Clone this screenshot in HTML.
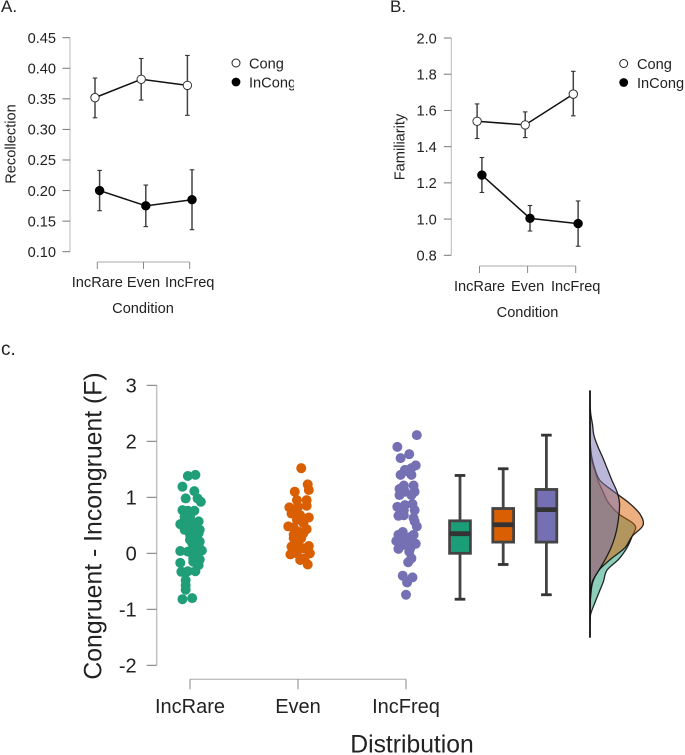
<!DOCTYPE html>
<html lang="en">
<head>
<meta charset="utf-8">
<title>Recollection, familiarity and congruency effects</title>
<style>
html,body{margin:0;padding:0;background:#fff;width:685px;height:755px;overflow:hidden}
svg{display:block;font-family:"Liberation Sans",sans-serif;fill:#222;filter:blur(.35px)}
</style>
</head>
<body>
<svg id="figure" xmlns="http://www.w3.org/2000/svg" width="685" height="755" viewBox="0 0 685 755">
  <defs>
    <clipPath id="legend-a-clip"><rect x="225" y="45" width="69" height="55"/></clipPath>
  </defs>
  <text x="1" y="12" font-size="17">A.</text>
  <text x="390" y="12" font-size="17">B.</text>
  <text x="1" y="355" font-size="19">c.</text>

  <text transform="translate(15.7,144) rotate(-90)" text-anchor="middle" font-size="14.6">Recollection</text>
  <text x="143" y="313" text-anchor="middle" font-size="14.6">Condition</text>
  <text transform="translate(404.5,147) rotate(-90)" text-anchor="middle" font-size="14.6">Familiarity</text>
  <text x="527.5" y="317" text-anchor="middle" font-size="14.6">Condition</text>
  <text transform="translate(101.7,526) rotate(-90)" text-anchor="middle" font-size="24.8">Congruent - Incongruent (F)</text>
  <text x="412" y="752.5" text-anchor="middle" font-size="24.7">Distribution</text>

  <g clip-path="url(#legend-a-clip)">
    <circle cx="236" cy="63" r="4" fill="#fff" stroke="#222" stroke-width="1"/>
    <text x="249" y="68.5" font-size="14.6">Cong</text>
    <circle cx="236" cy="82" r="4.4" fill="#000"/>
    <text x="249" y="87.5" font-size="14.6">InCong</text>
  </g>
  <g>
    <circle cx="623.7" cy="63.5" r="4" fill="#fff" stroke="#222" stroke-width="1"/>
    <text x="637" y="69" font-size="14.6">Cong</text>
    <circle cx="623.7" cy="82.5" r="4.4" fill="#000"/>
    <text x="637" y="88" font-size="14.6">InCong</text>
  </g>
</svg>
<script>
// ---------- Panels A and B data ----------
const conditions = ['IncRare', 'Even', 'IncFreq'];

const recTicks = ['0.10', '0.15', '0.20', '0.25', '0.30', '0.35', '0.40', '0.45'];
const recCong = [0.352, 0.382, 0.372];
const recCongHigh = [0.384, 0.416, 0.421];
const recCongLow = [0.319, 0.348, 0.323];
const recIncong = [0.200, 0.175, 0.185];
const recIncongHigh = [0.233, 0.209, 0.234];
const recIncongLow = [0.167, 0.141, 0.136];

const famTicks = ['0.8', '1.0', '1.2', '1.4', '1.6', '1.8', '2.0'];
const famCong = [1.54, 1.52, 1.69];
const famCongHigh = [1.636, 1.592, 1.816];
const famCongLow = [1.445, 1.45, 1.57];
const famIncong = [1.243, 1.004, 0.975];
const famIncongHigh = [1.34, 1.075, 1.10];
const famIncongLow = [1.147, 0.934, 0.85];

// ---------- Panel C data ----------
const diffTicks = ['-2', '-1', '0', '1', '2', '3'];

const rareValues = [1.38,1.40,1.19,1.11,0.98,0.98,0.92,0.77,0.76,0.76,0.65,0.65,0.57,0.52,0.54,0.52,0.42,0.45,0.42,0.33,0.36,0.24,0.21,0.18,0.04,0.09,0.05,0.03,0,-0.09,-0.11,-0.17,-0.21,-0.15,-0.33,-0.32,-0.32,-0.48,-0.57,-0.65,-0.82,-0.80,0.42,0.33,0.60,0.15,0.24];
const rareJitter = [-0.02,0.05,-0.07,0.04,-0.04,0.07,0.10,-0.07,-0.02,0.04,-0.05,0,0.08,-0.09,-0.03,0.02,-0.05,0.03,0.09,0,0.08,0.05,0.09,0.02,-0.09,0.03,0.11,-0.02,0.06,0.03,0.09,-0.09,0.08,0.03,-0.08,-0.02,0.05,-0.04,-0.04,-0.04,-0.07,0.02,0,0.05,0,0.08,0];

const evenValues = [1.52,1.23,1.13,1.10,0.95,0.95,0.82,0.83,0.85,0.71,0.68,0.64,0.60,0.48,0.46,0.54,0.43,0.39,0.27,0.27,0.12,0.15,0.13,0.09,-0.02,0,0,-0.12,-0.09,-0.20,0.06,0.36,0.74,0.33];
const evenJitter = [0.03,0.09,0.10,-0.03,0.08,-0.01,-0.08,0,0.08,-0.06,0.02,0.10,-0.01,-0.09,-0.04,0.05,0.08,0,-0.04,0.03,-0.06,0,0.10,0.05,-0.07,-0.01,0.11,0.02,0.06,0.09,-0.03,0.05,-0.03,-0.04];

const freqValues = [2.11,1.90,1.70,1.77,1.57,1.52,1.49,1.40,1.40,1.46,1.21,1.21,1.15,1.10,1.10,1.04,1.04,0.83,0.86,0.88,0.77,0.77,0.67,0.68,0.63,0.48,0.57,0.38,0.33,0.33,0.22,0.27,0.29,0.17,0.08,0.17,0.15,0.03,-0.09,-0.16,-0.40,-0.43,-0.52,-0.74,0.09];
const freqJitter = [0.10,-0.08,-0.05,0.03,0.09,0.05,-0.01,-0.05,0.05,0.02,-0.02,0.07,-0.06,0.08,-0.01,-0.06,0.05,-0.08,-0.01,0.06,-0.02,0.08,-0.07,-0.02,0.07,0.10,0.08,-0.03,0.07,-0.07,-0.09,-0.02,0.04,0.09,-0.07,0.02,-0.02,0.03,0.05,0.02,-0.03,0.06,0.01,0,0.04];

const boxSlots = [2.5, 2.9, 3.3];
const boxMin = [-0.82, -0.20, -0.74];
const boxQ1 = [0.00, 0.20, 0.20];
const boxMedian = [0.35, 0.51, 0.78];
const boxQ3 = [0.58, 0.80, 1.14];
const boxMax = [1.39, 1.51, 2.11];

const densityGrid = [2.9,2.7,2.5,2.3,2.1,1.9,1.7,1.5,1.3,1.1,0.9,0.7,0.5,0.3,0.1,-0.1,-0.3,-0.5,-0.7,-0.9,-1.1,-1.3,-1.5];
const rareDensity = [0,0,0,0,0,0.003,0.012,0.045,0.08,0.13,0.185,0.29,0.45,0.42,0.37,0.29,0.17,0.135,0.09,0.045,0.005,0,0];
const evenDensity = [0,0,0,0,0,0.005,0.02,0.05,0.10,0.24,0.39,0.50,0.53,0.42,0.35,0.21,0.09,0.03,0.01,0.002,0,0,0];
const freqDensity = [0,0,0.007,0.025,0.04,0.08,0.13,0.175,0.22,0.27,0.295,0.29,0.275,0.25,0.21,0.155,0.09,0.025,0.007,0.002,0,0,0];

// ---------- Drawing ----------
const svg = document.getElementById('figure');
const NS = 'http://www.w3.org/2000/svg';

function add(tag, attrs, parent) {
  const el = document.createElementNS(NS, tag);
  for (const k in attrs) el.setAttribute(k, attrs[k]);
  (parent || svg).appendChild(el);
  return el;
}

function seg(x1, y1, x2, y2, color, width, parent) {
  return add('line', { x1, y1, x2, y2, stroke: color, 'stroke-width': width }, parent);
}

function drawAxes(prefix, ticks, yScale, xScale, axisX, axisY, tickLen, xTickLen, fontSize, labelY, labelGap, axisColor, axisWidth) {
  const tickValues = ticks.map(Number);
  const yTop = yScale(Math.max(...tickValues));
  const yBottom = yScale(Math.min(...tickValues));
  const yLine = seg(axisX, yTop, axisX, yBottom, axisColor, axisWidth);
  
  
  ticks.forEach(function (label) {
    const y = yScale(Number(label));
    const mark = seg(axisX - tickLen, y, axisX, y, '#777', 1);
    
    
    const text = add('text', { x: axisX - tickLen - labelGap, y: y + fontSize * 0.36, 'text-anchor': 'end', 'font-size': fontSize });
    text.textContent = label;
    
    
  });
  const xLine = seg(xScale(0), axisY, xScale(conditions.length - 1), axisY, '#aaa', 1);
  
  
  conditions.forEach(function (label, i) {
    const x = xScale(i);
    const mark = seg(x, axisY, x, axisY + xTickLen, '#888', 1);
    
    
    const text = add('text', { x: x, y: labelY, 'text-anchor': 'middle', 'font-size': fontSize });
    text.textContent = label;
    
    
  });
}

function drawSeries(prefix, means, highs, lows, xScale, yScale, dodge, fill) {
  const group = add('g', {});
  
  
  means.forEach(function (_, i) {
    const x = xScale(i) + dodge;
    const bar = seg(x, yScale(highs[i]), x, yScale(lows[i]), '#444', 1.5, group);
    
    
    const capTop = seg(x - 2.3, yScale(highs[i]), x + 2.3, yScale(highs[i]), '#333', 1.1, group);
    
    
    const capLow = seg(x - 2.3, yScale(lows[i]), x + 2.3, yScale(lows[i]), '#333', 1.1, group);
    
    
  });
  const pts = means.map(function (v, i) { return (xScale(i) + dodge) + ',' + yScale(v); }).join(' ');
  const line = add('polyline', { points: pts, fill: 'none', stroke: '#111', 'stroke-width': 1.5 }, group);
  
  
  means.forEach(function (v, i) {
    const dot = add('circle', { cx: xScale(i) + dodge, cy: yScale(v), r: 4.2, fill: fill, stroke: fill === '#fff' ? '#333' : '#000', 'stroke-width': 1 }, group);
    
    
  });
}

// Panel A
const xA = function (i) { return 97.3 + 46.2 * i; };
const yA = function (v) { return 251.7 - (v - 0.10) * (214 / 0.35); };
drawAxes('panel-a', recTicks, yA, xA, 70, 262, 7.5, 7, 14.6, 287, 6.5, '#bbb', 1);
drawSeries('panel-a-cong', recCong, recCongHigh, recCongLow, xA, yA, -2.3, '#fff');
drawSeries('panel-a-incong', recIncong, recIncongHigh, recIncongLow, xA, yA, 2.3, '#000');

// Panel B
const xB = function (i) { return 479.5 + 48.1 * i; };
const yB = function (v) { return 255.3 - (v - 0.8) * (217.3 / 1.2); };
drawAxes('panel-b', famTicks, yB, xB, 451.3, 266, 7.5, 7, 14.6, 291, 7, '#bbb', 1);
drawSeries('panel-b-cong', famCong, famCongHigh, famCongLow, xB, yB, -2.4, '#fff');
drawSeries('panel-b-incong', famIncong, famIncongHigh, famIncongLow, xB, yB, 2.4, '#000');

// Panel C
const xC = function (i) { return 190 + 108 * i; };
const yC = function (v) { return 553.3 - 56 * v; };
const xDensity = function (d) { return 590 + 100 * d; };
drawAxes('panel-c', diffTicks, yC, xC, 156.7, 679.3, 10, 10, 20, 713, 10, '#c4c4c4', 1.5);

function drawDots(prefix, catIndex, values, jitter, color) {
  const group = add('g', {});
  
  
  values.forEach(function (v, i) {
    const dot = add('circle', { cx: xC(catIndex + jitter[i]), cy: yC(v), r: 5, fill: color }, group);
    
    
  });
}
drawDots('inc-rare', 0, rareValues, rareJitter, '#1f9e77');
drawDots('even', 1, evenValues, evenJitter, '#d95f02');
drawDots('inc-freq', 2, freqValues, freqJitter, '#7570b3');

const boxColors = ['#1b9e77', '#d95f02', '#7570b3'];
boxSlots.forEach(function (slot, i) {
  const x = xC(slot);
  const group = add('g', {});
  
  
  const whisker = seg(x, yC(boxMax[i]), x, yC(boxMin[i]), '#444', 2.8, group);
  
  
  const capTop = seg(x - 5.3, yC(boxMax[i]), x + 5.3, yC(boxMax[i]), '#333', 2.8, group);
  
  
  const capLow = seg(x - 5.3, yC(boxMin[i]), x + 5.3, yC(boxMin[i]), '#333', 2.8, group);
  
  
  const rect = add('rect', { x: x - 10.4, y: yC(boxQ3[i]), width: 20.8, height: yC(boxQ1[i]) - yC(boxQ3[i]), fill: boxColors[i], stroke: '#444', 'stroke-width': 2.8 }, group);
  
  
  const median = seg(x - 10.4, yC(boxMedian[i]), x + 10.4, yC(boxMedian[i]), '#333', 4.8, group);
  
  
});

function smoothPath(points) {
  let d = 'M' + points[0][0] + ',' + points[0][1];
  for (let i = 0; i < points.length - 1; i++) {
    const p0 = points[Math.max(i - 1, 0)];
    const p1 = points[i];
    const p2 = points[i + 1];
    const p3 = points[Math.min(i + 2, points.length - 1)];
    const c1x = Math.max(590, p1[0] + (p2[0] - p0[0]) / 6);
    const c1y = p1[1] + (p2[1] - p0[1]) / 6;
    const c2x = Math.max(590, p2[0] - (p3[0] - p1[0]) / 6);
    const c2y = p2[1] - (p3[1] - p1[1]) / 6;
    d += ' C' + c1x + ',' + c1y + ' ' + c2x + ',' + c2y + ' ' + p2[0] + ',' + p2[1];
  }
  return d + ' Z';
}

function drawDensity(values, color) {
  const pts = densityGrid.map(function (v, i) { return [xDensity(values[i]), yC(v)]; });
  return add('path', { d: smoothPath(pts), fill: color, 'fill-opacity': 0.5, stroke: '#111', 'stroke-width': 1.3, 'stroke-opacity': 0.9, 'stroke-linejoin': 'round' });
}
const rareCurve = drawDensity(rareDensity, '#1b9e77');


const evenCurve = drawDensity(evenDensity, '#d95f02');


const freqCurve = drawDensity(freqDensity, '#7570b3');


const baseline = seg(xDensity(0), yC(densityGrid[0]), xDensity(0), yC(densityGrid[densityGrid.length - 1]), '#111', 1.5);


</script>
</body>
</html>
